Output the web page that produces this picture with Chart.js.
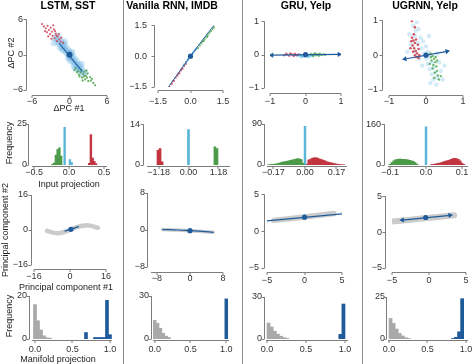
<!DOCTYPE html>
<html>
<head>
<meta charset="utf-8">
<script src="https://cdn.jsdelivr.net/npm/chart.js@4.4.1/dist/chart.umd.min.js"></script>
<style>
body { margin: 0; background: #fff; }
#fig { position: relative; width: 474px; height: 364px; overflow: hidden; font-family: "Liberation Sans", Arial, sans-serif; }
#fig canvas { position: absolute; }
.t { position: absolute; white-space: nowrap; font-size: 9px; line-height: 1; color: #222; transform: translate(-50%, -50%); }
.h { font-weight: bold; font-size: 10.5px; color: #000; }
.r { transform: translate(-50%, -50%) rotate(-90deg); }
.sep { position: absolute; top: 0; width: 1px; height: 364px; background: #8c8c8c; }
</style>
</head>
<body>
<div id="fig">
  <div class="sep" style="left:123px"></div>
  <div class="sep" style="left:242px"></div>
  <div class="sep" style="left:362px"></div>
</div>
<script>
// ---- row 1 : change in hidden state on the top 2 PCs ----
var lstmRed = [[-4.1,4.8],[-3.8,4.5],[-3.5,4.9],[-3.3,4.2],[-3.0,4.6],[-2.8,3.9],[-3.6,3.8],[-2.5,4.3],[-2.2,3.6],[-2.7,3.2],[-3.1,3.5],[-1.9,3.1],[-2.4,2.8],[-1.6,2.6],[-2.0,2.3],[-1.3,2.9],[-2.9,2.7],[-3.9,4.0],[-1.0,2.0],[-2.3,4.0],[-1.7,3.5],[-3.4,3.1],[-2.6,5.0],[-1.4,2.2],[-4.4,5.2],[-2.1,3.3]];
var lstmGreen = [[1.0,-2.3],[1.4,-2.8],[1.8,-3.0],[2.2,-3.3],[2.6,-3.6],[1.5,-3.4],[2.0,-3.9],[2.9,-3.2],[3.3,-3.8],[2.5,-4.2],[3.0,-4.5],[3.6,-4.1],[1.2,-3.0],[1.9,-2.6],[2.4,-2.9],[3.8,-4.8],[2.8,-3.9],[1.6,-3.7],[2.1,-4.4],[4.1,-5.2],[3.4,-4.4],[0.8,-2.6],[2.7,-2.7],[2.3,-3.7]];
var lstmBlue = [[-2.3,2.9],[-2.0,2.2],[-1.8,2.7],[-1.6,1.8],[-1.4,2.3],[-1.2,1.4],[-1.0,1.9],[-0.9,1.0],[-0.7,1.5],[-0.6,0.5],[-0.4,1.0],[-0.3,0.2],[-0.1,0.6],[0.0,-0.3],[0.2,0.2],[0.3,-0.7],[0.5,-0.2],[0.6,-1.2],[0.8,-0.7],[0.9,-1.6],[1.1,-1.1],[1.2,-2.1],[1.4,-1.6],[1.5,-2.5],[1.7,-2.0],[1.8,-2.9],[2.0,-2.5],[2.2,-3.3],[-1.5,1.2],[-0.8,2.2],[0.1,-1.0],[1.0,-2.4],[-2.5,2.0],[1.9,-1.6],[-0.2,-0.5],[0.4,0.4],[-1.1,0.8],[0.7,-1.9],[2.5,-3.0],[-1.9,3.2]];
var lstmLine = [[-1.65,1.9],[2.0,-2.8]];

var vanRed = [[-0.96,-1.5],[-0.86,-1.35],[-0.76,-1.2],[-0.68,-1.05],[-0.61,-0.95],[-0.51,-0.82],[-0.44,-0.7],[-0.36,-0.6],[-0.29,-0.48],[-0.21,-0.38],[-0.81,-1.22],[-0.56,-0.85],[-0.41,-0.62]];
var vanGreen = [[0.35,0.4],[0.43,0.52],[0.5,0.62],[0.57,0.72],[0.65,0.82],[0.73,0.92],[0.8,1.02],[0.87,1.12],[0.95,1.22],[1.02,1.32],[1.08,1.4],[0.61,0.74],[0.77,0.95]];
var vanBlue = [[-0.2,-0.28],[-0.12,-0.17],[-0.05,-0.06],[0.05,0.07],[0.12,0.17],[0.2,0.28],[0.27,0.36],[-0.3,-0.42]];
var vanLine = [[-1.08,-1.6],[-0.55,-0.8],[0,0],[0.55,0.78],[1.1,1.53]];

var gruRed = [[-0.6,-0.02],[-0.52,0.01],[-0.46,-0.03],[-0.4,0.02],[-0.35,-0.01],[-0.3,0.03],[-0.25,-0.02],[-0.2,0.01],[-0.43,0.04],[-0.33,-0.04],[-0.55,0.03],[-0.28,0.0]];
var gruGreen = [[0.15,0.02],[0.2,-0.01],[0.25,0.03],[0.3,-0.02],[0.35,0.01],[0.4,0.03],[0.45,-0.01],[0.5,0.01],[0.28,0.04],[0.38,-0.03],[0.55,0.0],[0.22,-0.03]];
var gruBlue = [[-0.2,-0.03],[-0.1,-0.04],[0.0,-0.03],[0.1,-0.04],[-0.15,0.0],[0.05,0.0],[0.15,-0.02],[-0.05,-0.05],[0.08,-0.06],[-0.12,-0.06],[0.2,-0.04]];
var gruArrow = [[-0.95,-0.015],[0.95,0.01]];

var ugRed = [[-0.38,0.5],[-0.34,0.42],[-0.3,0.35],[-0.36,0.28],[-0.32,0.2],[-0.28,0.12],[-0.24,0.05],[-0.3,0.0],[-0.26,-0.05],[-0.2,0.18],[-0.22,0.3],[-0.4,0.4],[-0.35,0.1],[-0.18,0.0],[-0.33,0.6],[-0.38,0.98],[-0.3,0.8],[-0.27,0.45],[-0.2,-0.08],[-0.42,0.2]];
var ugGreen = [[0.12,0.05],[0.18,-0.02],[0.22,-0.1],[0.15,-0.15],[0.25,-0.2],[0.2,-0.28],[0.28,-0.32],[0.18,-0.38],[0.3,-0.45],[0.24,-0.5],[0.32,-0.58],[0.14,-0.05],[0.26,-0.05],[0.35,-0.7],[0.4,-0.6],[0.22,-0.65],[0.1,-0.25],[0.3,-0.15]];
var ugBlue = [[-0.35,0.85],[-0.28,0.7],[-0.2,0.75],[-0.3,0.55],[-0.15,0.5],[-0.22,0.35],[-0.08,0.4],[-0.12,0.2],[0.0,0.25],[-0.05,0.05],[0.05,0.1],[0.0,-0.1],[0.1,-0.05],[0.05,-0.25],[0.15,-0.2],[0.1,-0.4],[0.2,-0.35],[0.15,-0.55],[0.25,-0.5],[0.2,-0.7],[0.3,-0.65],[0.28,-0.85],[-0.4,0.3],[-0.3,0.1],[0.35,-0.2],[0.4,-0.45],[-0.18,-0.1],[0.3,0.05],[-0.1,-0.3],[0.45,-0.7],[-0.45,0.6],[0.08,0.55],[-0.25,0.95],[0.12,-0.8],[0.5,-0.3],[-0.5,0.1]];
var ugArrow = [[-0.57,-0.11],[0.57,0.11]];

// ---- row 2 : input projection histograms, [bin centre, count] ----
var lstmInGreen = [[-0.2375,0.5],[-0.2125,1.2],[-0.1875,6],[-0.1625,9.5],[-0.1375,10.5],[-0.1125,5.5]];
var lstmInBlue = [[-0.0625,23],[0.0125,3.3],[0.0375,1.6]];
var lstmInRed = [[0.2875,1],[0.3125,18.5],[0.3375,4.3],[0.3625,2.2],[0.3875,0.8]];

var vanInRed = [[-1.2,5.1],[-1.12,5.7],[-1.04,1.1]];
var vanInBlue = [[0,12.2]];
var vanInGreen = [[1.04,6.3],[1.12,5.7]];

var gruInGreen = [[-0.2,0.5],[-0.19,0.8],[-0.18,1.2],[-0.17,1.6],[-0.16,2.2],[-0.15,3],[-0.14,4],[-0.13,5.5],[-0.12,6.5],[-0.11,7.5],[-0.1,8],[-0.09,9],[-0.08,10],[-0.07,11],[-0.06,12],[-0.05,13],[-0.04,14],[-0.03,13.5],[-0.02,12],[-0.01,4]];
var gruInBlue = [[0,85]];
var gruInRed = [[0.01,2],[0.02,11],[0.03,13],[0.04,15],[0.05,16],[0.06,16],[0.07,15],[0.08,13],[0.09,12],[0.1,10.5],[0.11,9],[0.12,7],[0.13,6],[0.14,5],[0.15,4],[0.16,3],[0.17,2.2],[0.18,1.5],[0.19,1],[0.2,0.6],[0.21,0.3]];

var ugInGreen = [[-0.1,3],[-0.095,10],[-0.09,16],[-0.085,20],[-0.08,22],[-0.075,23],[-0.07,23],[-0.065,22],[-0.06,22],[-0.055,21],[-0.05,20],[-0.045,18],[-0.04,16],[-0.035,14],[-0.03,10],[-0.025,4]];
var ugInBlue = [[0,150]];
var ugInRed = [[0.015,1.5],[0.02,3],[0.025,4],[0.03,5.5],[0.035,7],[0.04,9],[0.045,11],[0.05,13],[0.055,15],[0.06,17],[0.065,19],[0.07,22],[0.075,25],[0.08,26],[0.085,25],[0.09,22],[0.095,16],[0.1,8],[0.105,3]];

// ---- row 3 : fixed-point manifold on the top 2 PCs ----
var lstmPcBand = [[-10.2,-0.4],[-8,-1.1],[-5.3,-1.5],[-2.5,-0.9],[0,0.1],[3,1.3],[6.7,2.1],[9.5,1.9],[12.4,1.0]];
var lstmPcLine = [[-2.2,-0.5],[0.4,0.3],[3.7,1.5]];
var lstmPcDot = [[0.4,0.3]];
var vanPcLine = [[-6.6,0.1],[-3,0],[0,-0.15],[3,-0.3],[5.6,-0.5]];
var vanPcDot = [[0,-0.15]];
var gruPcBand = [[-4.1,1.47],[0,1.93],[3.9,2.4]];
var gruPcArrow = [[-5.2,1.37],[5.2,2.36]];
var gruPcDot = [[0,1.9]];
var ugPcBand = [[-5.2,1.47],[-1,1.9],[3.4,2.36]];
var ugPcArrow = [[-3.6,1.7],[2.84,2.36]];
var ugPcDot = [[-0.45,2.05]];

// ---- row 4 : manifold projection histograms ----
var lstmMfGray = [[0,16],[0.04,8.5],[0.08,4.2],[0.12,1.5],[0.16,0.6],[0.2,0.4]];
var lstmMfBlue = [[0.68,3],[0.8,0.7],[0.84,0.7],[0.88,0.7],[0.92,0.7],[0.96,18],[1.0,2]];
var vanMfGray = [[0,13],[0.04,11],[0.08,7.5],[0.12,4],[0.16,2],[0.2,1]];
var vanMfBlue = [[1.0,28]];
var gruMfGray = [[0.02,11.4],[0.06,8.6],[0.1,5.6],[0.14,3.5],[0.18,2],[0.22,1],[0.26,0.4]];
var gruMfBlue = [[0.94,3.3],[0.98,25]];
var ugMfGray = [[0.02,12.2],[0.06,9.3],[0.1,5.9],[0.14,3.3],[0.18,1.8],[0.22,0.8],[0.26,0.3]];
var ugMfBlue = [[0.83,0.3],[0.87,1],[0.91,4.3],[0.95,24]];

// ---- ticks ----
var tk6 = [-6, 0, 6], tl6 = ['\u22126', '0', '6'];
var tk15 = [-1.5, 0, 1.5], tl15 = ['\u22121.5', '0.0', '1.5'];
var tk1 = [-1, 0, 1], tl1 = ['\u22121', '0', '1'];
var tkIn1 = [-0.5, 0, 0.5], tlIn1 = ['\u22120.5', '0.0', '0.5'];
var tkIn2 = [-1.18, 0, 1.18], tlIn2 = ['\u22121.18', '0.00', '1.18'];
var tkIn3 = [-0.17, 0, 0.17], tlIn3 = ['\u22120.17', '0.00', '0.17'];
var tkIn4 = [-0.1, 0, 0.1], tlIn4 = ['\u22120.1', '0.0', '0.1'];
var tk16 = [-16, 0, 16], tl16 = ['\u221216', '0', '16'];
var tk8 = [-8, 0, 8], tl8 = ['\u22128', '0', '8'];
var tk5 = [-5, 0, 5], tl5 = ['\u22125', '0', '5'];
var tkMf = [0, 0.5, 1], tlMf = ['0.0', '0.5', '1.0'];
var freqIn = [25, 14, 90, 160];
var freqMf = [20, 30, 30, 25];

var RED = '#c23440', GREEN = '#4b9b48', CYAN = '#5bb6d9', NAVY = '#1f5b9b', GRAY = '#a9a9a9', BAND = '#cbcbcb';
var fig = document.getElementById('fig');
var TICK_FONT = { family: '"Liberation Sans", Arial, sans-serif', size: 9 };

// offset spines with short tick marks, matplotlib style
var spines = {
  id: 'spines',
  beforeDatasetsDraw: function (chart, args, o) {
    var ctx = chart.ctx, a = chart.chartArea, sx = chart.scales.x, sy = chart.scales.y;
    var xs = Math.round(a.left - o.yOff) - 0.5;
    var yb = Math.round(a.bottom + o.xOff) + 0.5;
    ctx.save();
    ctx.strokeStyle = '#7d7d7d';
    ctx.lineWidth = 1;
    ctx.beginPath();
    ctx.moveTo(xs, a.top); ctx.lineTo(xs, a.bottom);
    sy.ticks.forEach(function (t) {
      var p = Math.round(sy.getPixelForValue(t.value)) + 0.5;
      ctx.moveTo(xs, p); ctx.lineTo(xs - 3, p);
    });
    ctx.moveTo(a.left, yb); ctx.lineTo(a.right, yb);
    sx.ticks.forEach(function (t) {
      var p = Math.round(sx.getPixelForValue(t.value)) - 0.5;
      ctx.moveTo(p + 0.5, yb); ctx.lineTo(p + 0.5, yb + 2.5);
    });
    ctx.stroke();
    ctx.restore();
  }
};

function pts(a) { return a.map(function (p) { return { x: p[0], y: p[1] }; }); }
function dots(a, color, r) {
  return { data: pts(a), backgroundColor: color, borderWidth: 0, pointRadius: r, pointHoverRadius: r };
}
function curve(a, color, w, tension) {
  return { data: pts(a), showLine: true, borderColor: color, borderWidth: w, pointRadius: 0,
    borderCapStyle: 'round', borderJoinStyle: 'round', tension: tension || 0 };
}
function arrow(a, color) {
  return { data: pts(a), showLine: true, borderColor: color, borderWidth: 1.2, backgroundColor: color,
    pointStyle: 'triangle', pointRadius: 3, pointBorderWidth: 0,
    rotation: function (c) {
      var sx = c.chart.scales.x, sy = c.chart.scales.y;
      var p = a[c.dataIndex], q = a[1 - c.dataIndex];
      var dx = sx.getPixelForValue(p[0]) - sx.getPixelForValue(q[0]);
      var dy = sy.getPixelForValue(p[1]) - sy.getPixelForValue(q[1]);
      return Math.atan2(dx, -dy) * 180 / Math.PI;
    } };
}
function bars(a, color) {
  return { data: pts(a), backgroundColor: color, borderWidth: 0, grouped: false, barPercentage: 1, categoryPercentage: 1 };
}

var L = 44, T = 12, R = 16, B = 26;
function panel(p) {
  var l = p.box[0], t = p.box[1], r = p.box[2], b = p.box[3];
  var w = r - l + L + R, h = b - t + T + B;
  var cv = document.createElement('canvas');
  cv.width = w; cv.height = h;
  cv.style.left = (l - L) + 'px'; cv.style.top = (t - T) + 'px';
  cv.style.width = w + 'px'; cv.style.height = h + 'px';
  fig.appendChild(cv);
  function axis(range, vals, labels, pad, fit) {
    return {
      type: 'linear', min: range[0], max: range[1], offset: false,
      grid: { display: false, drawTicks: false }, border: { display: false },
      afterBuildTicks: function (s) { s.ticks = vals.map(function (v) { return { value: v }; }); },
      afterFit: fit,
      ticks: { padding: pad, autoSkip: false, maxRotation: 0, minRotation: 0, color: '#333', font: TICK_FONT,
        callback: function (v, i) { return labels[i]; } }
    };
  }
  new Chart(cv, {
    type: p.type || 'scatter',
    data: { datasets: p.ds },
    options: {
      responsive: false, animation: false, devicePixelRatio: 1, events: [],
      layout: { padding: { left: 0, top: T, right: R, bottom: 0 } },
      plugins: { legend: { display: false }, tooltip: { enabled: false }, spines: { xOff: p.xOff, yOff: p.yOff } },
      scales: {
        x: axis(p.x, p.xt, p.xl, p.xPad, function (s) { s.height = B; }),
        y: axis(p.y, p.yt, p.yl, p.yPad, function (s) { s.width = L; })
      }
    },
    plugins: [spines]
  });
}

// row 1
panel({ box: [32, 17, 107, 90], x: [-6, 6], y: [-6, 6], xt: tk6, xl: tl6, yt: tk6, yl: tl6, xOff: 5, yOff: 5, xPad: 6, yPad: 9,
  ds: [dots([[0, 0]], NAVY, 3), curve(lstmLine, NAVY, 1.1), dots(lstmGreen, 'rgba(75,160,72,0.85)', 1.1),
       dots(lstmRed, 'rgba(205,70,90,0.85)', 1.1), dots(lstmBlue, 'rgba(90,170,222,0.28)', 3.4)] });
panel({ box: [158, 21, 223, 87], x: [-1.5, 1.5], y: [-1.5, 1.5], xt: tk15, xl: tl15, yt: tk15, yl: tl15, xOff: 3, yOff: 3, xPad: 9, yPad: 11,
  ds: [dots([[0, 0]], NAVY, 2.6), curve(vanLine, NAVY, 1, 0.3), dots(vanGreen, 'rgba(75,165,72,0.8)', 1.1),
       dots(vanRed, 'rgba(200,70,95,0.8)', 1.1), dots(vanBlue, 'rgba(80,170,220,0.8)', 1.2)] });
panel({ box: [270, 17, 341, 88], x: [-1, 1], y: [-1, 1], xt: tk1, xl: tl1, yt: tk1, yl: tl1, xOff: 5, yOff: 5, xPad: 8, yPad: 11,
  ds: [dots([[0, 0]], NAVY, 2.6), arrow(gruArrow, NAVY), dots(gruGreen, 'rgba(75,165,72,0.7)', 1.2),
       dots(gruRed, 'rgba(200,70,95,0.7)', 1.2), dots(gruBlue, 'rgba(80,185,220,0.55)', 1.5)] });
panel({ box: [389, 16, 463, 90], x: [-1, 1], y: [-1, 1], xt: tk1, xl: tl1, yt: tk1, yl: tl1, xOff: 5, yOff: 6, xPad: 6, yPad: 11,
  ds: [dots([[0, 0]], NAVY, 2.6), arrow(ugArrow, NAVY), dots(ugGreen, 'rgba(75,165,72,0.8)', 1.2),
       dots(ugRed, 'rgba(200,55,70,0.85)', 1.3), dots(ugBlue, 'rgba(110,185,228,0.3)', 2.2)] });

// row 2
panel({ type: 'bar', box: [32, 124, 107, 165], x: [-0.529, 0.543], y: [0, freqIn[0]], xt: tkIn1, xl: tlIn1, yt: [0, freqIn[0]], yl: ['0', String(freqIn[0])],
  xOff: 1, yOff: 3, xPad: 2, yPad: 5, ds: [bars(lstmInGreen, GREEN), bars(lstmInBlue, CYAN), bars(lstmInRed, RED)] });
panel({ type: 'bar', box: [147, 124, 230, 165], x: [-1.633, 1.633], y: [0, freqIn[1]], xt: tkIn2, xl: tlIn2, yt: [0, freqIn[1]], yl: ['0', String(freqIn[1])],
  xOff: 1, yOff: 3, xPad: 2, yPad: 7, ds: [bars(vanInRed, RED), bars(vanInBlue, CYAN), bars(vanInGreen, GREEN)] });
panel({ type: 'bar', box: [267, 124, 347, 165], x: [-0.205, 0.2267], y: [0, freqIn[2]], xt: tkIn3, xl: tlIn3, yt: [0, freqIn[2]], yl: ['0', String(freqIn[2])],
  xOff: 1, yOff: 2, xPad: 2, yPad: 5, ds: [bars(gruInGreen, GREEN), bars(gruInBlue, CYAN), bars(gruInRed, RED)] });
panel({ type: 'bar', box: [388, 124, 468, 165], x: [-0.1056, 0.1167], y: [0, freqIn[3]], xt: tkIn4, xl: tlIn4, yt: [0, freqIn[3]], yl: ['0', String(freqIn[3])],
  xOff: 1, yOff: 3, xPad: 2, yPad: 7, ds: [bars(ugInGreen, GREEN), bars(ugInBlue, CYAN), bars(ugInRed, RED)] });

// row 3
panel({ box: [34, 195, 106, 265], x: [-16, 16], y: [-16, 16], xt: tk16, xl: tl16, yt: tk16, yl: tl16, xOff: 4, yOff: 2, xPad: 6, yPad: 6,
  ds: [dots(lstmPcDot, NAVY, 2.6), curve(lstmPcLine, NAVY, 1.3, 0.4), curve(lstmPcBand, BAND, 4.5, 0.4)] });
panel({ box: [151, 193, 223, 267], x: [-9.45, 8], y: [-8, 8], xt: tk8, xl: tl8, yt: tk8, yl: tl8, xOff: 5, yOff: 3, xPad: 6, yPad: 6,
  ds: [dots(vanPcDot, NAVY, 2.6), curve(vanPcLine, NAVY, 1.2, 0.4), curve(vanPcLine, BAND, 3.5, 0.4)] });
panel({ box: [267, 193, 342, 268], x: [-5, 5], y: [-5, 5], xt: tk5, xl: tl5, yt: tk5, yl: tl5, xOff: 4, yOff: 2, xPad: 7, yPad: 8,
  ds: [dots(gruPcDot, NAVY, 2.6), arrow(gruPcArrow, NAVY), curve(gruPcBand, BAND, 5.5, 0.4)] });
panel({ box: [392, 193, 466, 268], x: [-5, 5], y: [-5, 5], xt: tk5, xl: tl5, yt: tk5, yl: tl5, xOff: 4, yOff: 6, xPad: 7, yPad: 10,
  ds: [dots(ugPcDot, NAVY, 2.6), arrow(ugPcArrow, NAVY), curve(ugPcBand, BAND, 6, 0.4)] });

// row 4
panel({ type: 'bar', box: [32, 296, 112, 339], x: [-0.04, 1.027], y: [0, freqMf[0]], xt: tkMf, xl: tlMf, yt: [0, freqMf[0]], yl: ['0', String(freqMf[0])],
  xOff: 1, yOff: 2, xPad: 5, yPad: 5, ds: [bars(lstmMfGray, GRAY), bars(lstmMfBlue, NAVY)] });
panel({ type: 'bar', box: [153, 296, 229, 339], x: [-0.024, 1.038], y: [0, freqMf[1]], xt: tkMf, xl: tlMf, yt: [0, freqMf[1]], yl: ['0', String(freqMf[1])],
  xOff: 1, yOff: 1, xPad: 5, yPad: 4, ds: [bars(vanMfGray, GRAY), bars(vanMfBlue, NAVY)] });
panel({ type: 'bar', box: [266, 297, 348, 339], x: [-0.0128, 1.0385], y: [0, freqMf[2]], xt: tkMf, xl: tlMf, yt: [0, freqMf[2]], yl: ['0', String(freqMf[2])],
  xOff: 1, yOff: 1, xPad: 5, yPad: 4, ds: [bars(gruMfGray, GRAY), bars(gruMfBlue, NAVY)] });
panel({ type: 'bar', box: [388, 297, 468, 339], x: [-0.013, 1.026], y: [0, freqMf[3]], xt: tkMf, xl: tlMf, yt: [0, freqMf[3]], yl: ['0', String(freqMf[3])],
  xOff: 1, yOff: 1, xPad: 5, yPad: 3, ds: [bars(ugMfGray, GRAY), bars(ugMfBlue, NAVY)] });

// text
function txt(s, x, y, cls) {
  var d = document.createElement('div');
  d.className = 't' + (cls ? ' ' + cls : '');
  d.textContent = s;
  d.style.left = x + 'px'; d.style.top = y + 'px';
  fig.appendChild(d);
}
txt('LSTM, SST', 68, 5, 'h');
txt('Vanilla RNN, IMDB', 172, 5, 'h');
txt('GRU, Yelp', 306, 5, 'h');
txt('UGRNN, Yelp', 425, 5, 'h');
txt('\u0394PC #1', 69, 108);
txt('Input projection', 69, 184);
txt('Principal component #1', 66, 287);
txt('Manifold projection', 58, 359);
txt('\u0394PC #2', 11, 53, 'r');
txt('Frequency', 8.5, 143, 'r');
txt('Principal component #2', 5, 230, 'r');
txt('Frequency', 8.5, 316, 'r');
</script>
</body>
</html>
